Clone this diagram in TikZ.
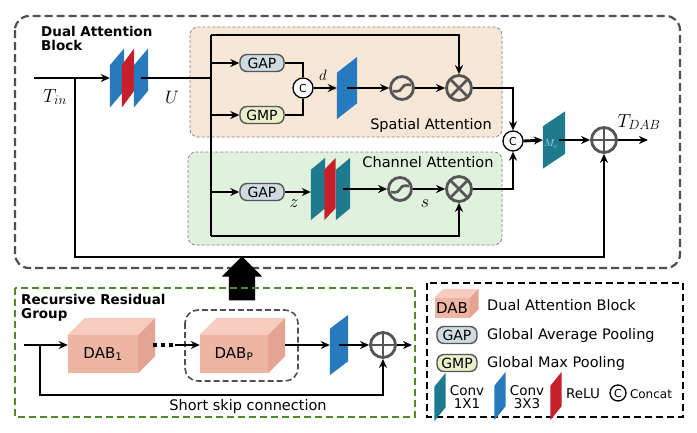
\documentclass[tikz,border=0pt]{standalone}
\usepackage{fix-cm}
\usepackage{fontspec}
\setsansfont{DejaVu Sans}
\usetikzlibrary{arrows.meta, calc, positioning, shapes.arrows}

\definecolor{convblue}{RGB}{40,122,190}
\definecolor{convteal}{RGB}{30,122,140}
\definecolor{relured}{RGB}{200,32,42}
\definecolor{spatialbg}{RGB}{246,231,214}
\definecolor{channelbg}{RGB}{224,242,222}
\definecolor{gapfill}{RGB}{206,220,225}
\definecolor{gmpfill}{RGB}{234,239,202}
\definecolor{cubefront}{RGB}{239,181,163}
\definecolor{cubetop}{RGB}{246,204,190}
\definecolor{cubeside}{RGB}{229,163,145}
\definecolor{opgray}{RGB}{85,85,85}
\definecolor{framegray}{RGB}{80,80,80}
\definecolor{groupgreen}{RGB}{78,140,40}

% conv plate: name, centre, width, height, skew, colour
\newcommand{\plate}[6]{%
  \node[inner sep=0, minimum width=#3pt, minimum height=#4pt] (#1) at (#2) {};
  \fill[#6] ([yshift=-0.5*#5pt]#1.north west) -- ([yshift=0.5*#5pt]#1.north east)
     -- ([yshift=0.5*#5pt]#1.south east) -- ([yshift=-0.5*#5pt]#1.south west) -- cycle;}
% block cube: name, centre, width, height, depth, label
\newcommand{\dabcube}[6]{%
  \node[cubeface, minimum width=#3pt, minimum height=#4pt] (#1) at (#2) {#6};
  \fill[cubetop] (#1.north west) -- ++(#5,-#5) -- ([shift={(#5,-#5)}]#1.north east) -- (#1.north east) -- cycle;
  \fill[cubeside] (#1.north east) -- ++(#5,-#5) -- ([shift={(#5,-#5)}]#1.south east) -- (#1.south east) -- cycle;}

\begin{document}
\begin{tikzpicture}[x=1pt, y=-1pt,
    line/.style = {line width=2.8pt},
    arrow/.style = {line, -{Stealth[length=9pt, width=8pt]}},
    lbl/.style = {font=\sffamily\fontsize{14.5}{16}\selectfont, inner sep=1pt},
    small/.style = {font=\sffamily\fontsize{13.5}{13}\selectfont, inner sep=0},
    title/.style = {font=\sffamily\bfseries\fontsize{13.5}{14.5}\selectfont, align=left, inner sep=0},
    mlbl/.style = {font=\fontsize{18}{18}\selectfont, inner sep=0},
    pill/.style = {draw=opgray, line width=1.4pt, rounded corners=7pt, minimum width=44pt,
                   minimum height=17pt, inner sep=1pt, font=\sffamily\fontsize{14}{14}\selectfont},
    concat/.style = {circle, draw, fill=white, line width=1.3pt, minimum size=20pt, inner sep=0,
                     font=\sffamily\fontsize{11}{11}\selectfont},
    op/.style = {circle, draw=opgray, line width=2.8pt, minimum size=23pt, inner sep=0},
    sigm/.style = {op, path picture={\draw[opgray, line width=2.6pt]
        ($(path picture bounding box.center)+(-9,3)$) .. controls +(14,2) and +(-14,-2)
        .. ($(path picture bounding box.center)+(9,-3)$);}},
    mult/.style = {op, minimum size=25pt, path picture={\draw[opgray, line width=2.6pt]
        (path picture bounding box.north west) -- (path picture bounding box.south east)
        (path picture bounding box.north east) -- (path picture bounding box.south west);}},
    plus/.style = {op, minimum size=25pt, path picture={\draw[opgray, line width=2.6pt]
        (path picture bounding box.north) -- (path picture bounding box.south)
        (path picture bounding box.west) -- (path picture bounding box.east);}},
    cubeface/.style = {fill=cubefront, inner sep=0, font=\sffamily\fontsize{15}{15}\selectfont},
    dabframe/.style = {draw=framegray, line width=2.2pt, dash pattern=on 8pt off 4pt, rounded corners=14pt},
    attnbox/.style = {draw=gray, line width=0.8pt, dash pattern=on 3pt off 2pt, rounded corners=8pt},
    groupframe/.style = {draw=groupgreen, line width=2pt, dash pattern=on 7pt off 4pt},
    pbox/.style = {draw=framegray, line width=1.6pt, dash pattern=on 6pt off 3pt, rounded corners=13pt},
    legframe/.style = {draw=black, line width=2.4pt, dash pattern=on 7pt off 4pt},
    bigarrow/.style = {single arrow, fill=black, rotate=90, inner xsep=0, inner ysep=13pt,
                       minimum height=44pt, minimum width=38pt}]
\useasboundingbox (0,0) rectangle (697,432);

% Dual Attention Block
\draw[dabframe] (15,16) rectangle (680,268);
\node[title, anchor=north west] (dabtitle) at (41,26) {Dual Attention\\Block};
\draw[attnbox, fill=spatialbg] (190,27) rectangle (502,137);
\draw[attnbox, fill=channelbg] (188,152) rectangle (502,245);
\node[lbl] (sattn) at (431,125) {Spatial Attention};
\node[lbl] (cattn) at (428,162) {Channel Attention};

\coordinate (tin) at (34,78);
\coordinate (split) at (75,78);
\coordinate (skip) at (75,257);
\coordinate (ufork) at (211,78);
\coordinate (utop) at (211,35);
\coordinate (ubot) at (211,236);
\coordinate (tout) at (648,140);

\plate{in1}{117,78}{14}{42}{17}{convblue}
\plate{in2}{128,78}{12}{42}{17}{relured}
\plate{in3}{141,78}{14}{42}{17}{convblue}

\node[pill, fill=gapfill] (gap1) at (262,63) {GAP};
\node[pill, fill=gmpfill] (gmp) at (262,115) {GMP};
\node[concat] (cat1) at (303,88) {C};
\plate{sconv}{347,88}{20}{46}{16}{convblue}
\node[sigm] (sig1) at (402,88) {};
\node[mult] (mul1) at (459,88) {};

\node[pill, fill=gapfill] (gap2) at (262,192) {GAP};
\plate{ch1}{318,189}{14}{50}{12}{convteal}
\plate{ch2}{330,189}{11}{50}{12}{relured}
\plate{ch3}{343,189}{14}{50}{12}{convteal}
\node[sigm] (sig2) at (400,189) {};
\node[mult] (mul2) at (459,189) {};

\node[concat] (cat2) at (513,141) {C};
\plate{mc}{554,140}{22}{42}{15}{convteal}
\node[plus] (add1) at (604,140) {};

% connections
\draw[arrow] (tin) -- (in1.west);
\draw[line] (in3.center) -- (ufork);
\draw[line] (utop) -- (ubot);
\draw[arrow] (utop) -| (mul1.north);
\draw[arrow] (ufork |- gap1) -- (gap1.west);
\draw[arrow] (ufork |- gmp) -- (gmp.west);
\draw[line] (gap1.east) -| (cat1.north);
\draw[line] (gmp.east) -| (cat1.south);
\draw[arrow] (cat1.east) -- (sconv.west);
\draw[arrow] (sconv.center) -- (sig1.west);
\draw[arrow] (sig1.east) -- (mul1.west);
\draw[arrow] (mul1.east) -| (cat2.north);
\draw[arrow] (ufork |- gap2) -- (gap2.west);
\draw[arrow] (gap2.east) -- (gap2.east -| ch1.west);
\draw[arrow] (ch3.center) -- (sig2.west);
\draw[arrow] (sig2.east) -- (mul2.west);
\draw[arrow] (ubot) -| (mul2.south);
\draw[arrow] (mul2.east) -| (cat2.south);
\draw[arrow] (cat2.east) -- (mc.west);
\draw[arrow] ([xshift=5pt]mc.center) -- (add1.west);
\draw[arrow] (add1.east) -- (tout);
\draw[arrow] (split) -- (skip) -| (add1.south);
\node[font=\fontsize{10}{10}\selectfont, text=cyan!35, inner sep=0] (mclbl) at ([xshift=-3pt,yshift=-4pt]mc.center) {$M_c$};

\node[mlbl, font=\fontsize{19}{19}\selectfont] (tinlbl) at (55,97) {$T_{in}$};
\node[mlbl] (ulbl) at (172,97) {$U$};
\node[mlbl, font=\fontsize{15}{15}\selectfont] (dlbl) at (323,75) {$d$};
\node[mlbl] (zlbl) at (294,204) {$z$};
\node[mlbl] (slbl) at (425,204) {$s$};
\node[mlbl, font=\fontsize{19}{19}\selectfont] (tdablbl) at (639,122) {$T_{DAB}$};

% Recursive Residual Group
\node[bigarrow] (up) at (242,285) {};
\draw[groupframe] (15,288) rectangle (415,417);
\node[title, anchor=north west] (rrgtitle) at (21,294) {Recursive Residual\\Group};
\draw[pbox] (185,310) rectangle (298,381);
\dabcube{dab1}{103,354}{70}{38}{17}{DAB\textsubscript{1}}
\dabcube{dabp}{234,354}{68}{38}{17}{DAB\textsubscript{P}}
\plate{gconv}{339,345}{18}{46}{14}{convblue}
\node[plus] (add2) at (383,345) {};

\coordinate (gin) at (24,345);
\coordinate (gsplit) at (40,345);
\coordinate (gskip) at (40,395);
\coordinate (dots) at (153,345);
\coordinate (pout) at (285,345);
\coordinate (gout) at (412,345);

\draw[arrow] (gin) -- (gin -| dab1.west);
\draw[line width=3.5pt, dash pattern=on 4pt off 4pt] (dots) -- ++(22,0) coordinate (dotsend);
\draw[arrow] (dotsend) -- (dotsend -| dabp.west);
\draw[arrow] (pout) -- (pout -| gconv.west);
\draw[arrow] (gconv.center) -- (add2.west);
\draw[arrow] (add2.east) -- (gout);
\draw[arrow] (gsplit) -- (gskip) -| (add2.south);
\node[lbl] (skiplbl) at (248,406) {Short skip connection};

% legend
\draw[legframe] (427,283) rectangle (683,417);
\dabcube{ldab}{452,308}{35}{20}{9}{DAB}
\node[lbl, anchor=west] (ldabtxt) at (486,305) {Dual Attention Block};
\node[pill, fill=gapfill, minimum width=40pt] (lgap) at (457,335) {GAP};
\node[lbl, anchor=west] (lgaptxt) at (486,335) {Global Average Pooling};
\node[pill, fill=gmpfill, minimum width=40pt] (lgmp) at (457,363) {GMP};
\node[lbl, anchor=west] (lgmptxt) at (486,363) {Global Max Pooling};
\plate{lc1}{440,397}{11}{34}{14}{convteal}
\node[small, align=center] (lc1txt) at (467,397) {Conv\\1X1};
\plate{lc3}{500,396}{11}{34}{14}{convblue}
\node[small, align=center] (lc3txt) at (527,397) {Conv\\3X3};
\plate{lrelu}{556,396}{11}{34}{14}{relured}
\node[small] (lrelutxt) at (583,394) {ReLU};
\node[concat, minimum size=16pt] (lcat) at (618,393) {C};
\node[small, font=\sffamily\fontsize{12}{12}\selectfont] (lcattxt) at (651,394) {Concat};
\end{tikzpicture}
\end{document}
